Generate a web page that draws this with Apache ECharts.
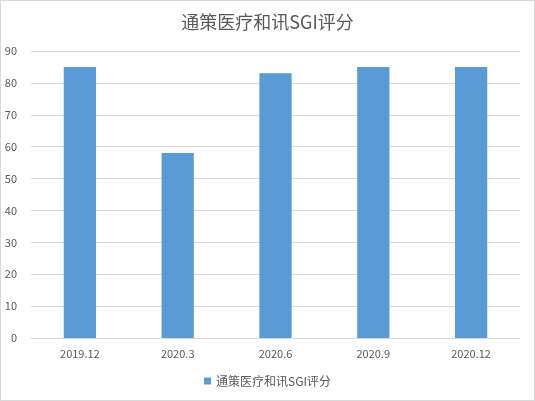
<!DOCTYPE html>
<html>
<head>
<meta charset="utf-8">
<script src="https://cdn.jsdelivr.net/npm/echarts@6/dist/echarts.min.js"></script>
<style>
html, body { margin: 0; padding: 0; background: #fff; }
#main { width: 533px; height: 399px; border: 1px solid #d9d9d9; }
</style>
</head>
<body>
<div id="main"></div>
<script>
// 数据
var titleText = '通策医疗和讯SGI评分';
var categories = ['2019.12', '2020.3', '2020.6', '2020.9', '2020.12'];
var scores = [85, 58, 83, 85, 85];
var yTicks = { min: 0, max: 90, step: 10 };

var myChart = echarts.init(document.getElementById('main'));
var font = 'Microsoft YaHei, "Noto Sans CJK SC", sans-serif';

var option = {
    animation: false,
    title: {
        text: titleText,
        left: 'center',
        top: 7,
        textStyle: { fontSize: 18, fontWeight: 'normal', color: '#595959', fontFamily: font }
    },
    legend: {
        bottom: 8,
        left: 'center',
        itemWidth: 7,
        itemHeight: 7,
        icon: 'rect',
        textStyle: { fontSize: 12, color: '#595959', fontFamily: font },
        data: [titleText]
    },
    grid: { left: 30, right: 14, top: 50, bottom: 62 },
    xAxis: {
        type: 'category',
        data: categories,
        axisLine: { lineStyle: { color: '#d9d9d9' } },
        axisTick: { show: false },
        axisLabel: { color: '#595959', fontSize: 11, margin: 10, fontFamily: font }
    },
    yAxis: {
        type: 'value',
        min: yTicks.min,
        max: yTicks.max,
        interval: yTicks.step,
        axisLine: { show: false },
        axisTick: { show: false },
        axisLabel: { color: '#595959', fontSize: 11, margin: 14, fontFamily: font },
        splitLine: { lineStyle: { color: '#d9d9d9' } }
    },
    series: [{
        name: titleText,
        type: 'bar',
        data: scores,
        barWidth: '33%',
        itemStyle: { color: '#5b9bd5' }
    }]
};

myChart.setOption(option);
</script>
</body>
</html>
